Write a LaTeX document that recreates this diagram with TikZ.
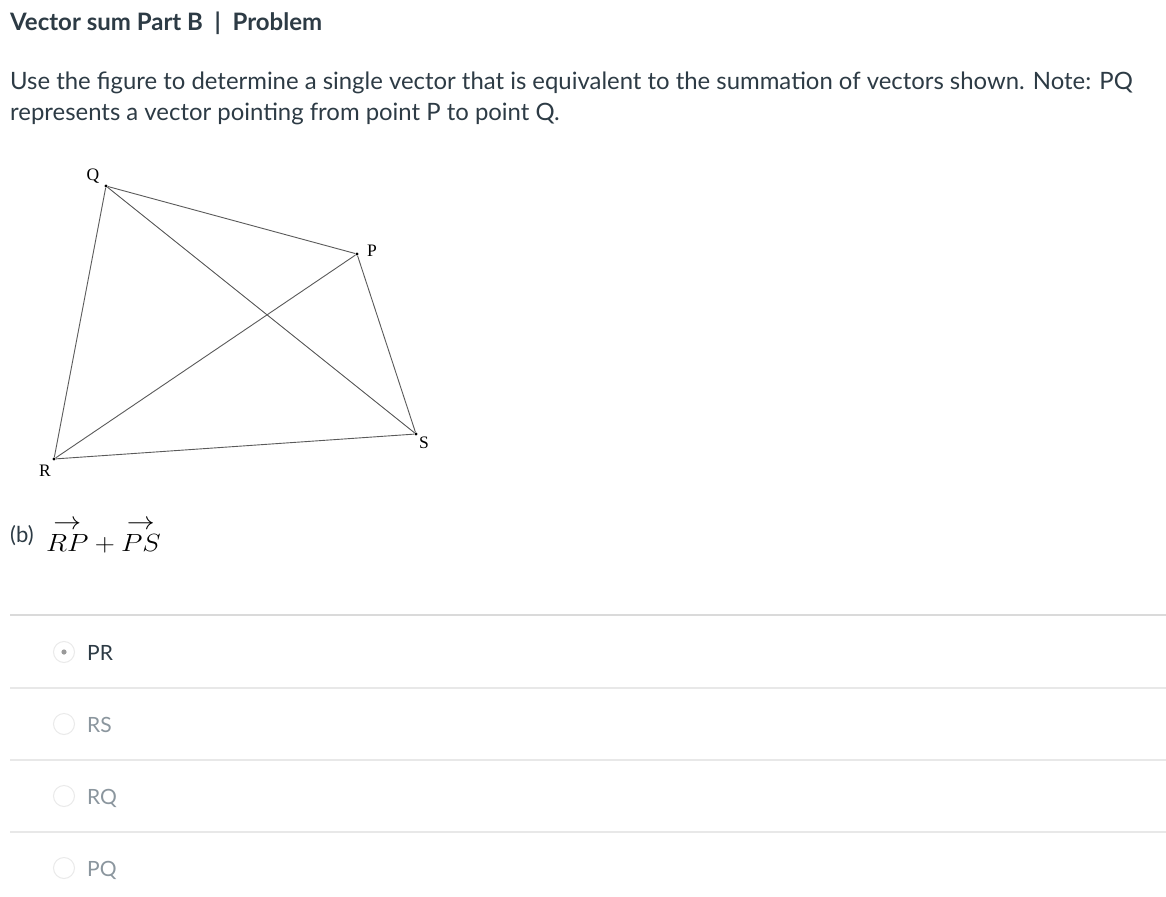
\documentclass[tikz,border=0pt]{standalone}
\usepackage{fontspec}
\setmainfont{Lato}
\newfontfamily\figfont{Liberation Serif}
\usepackage{amsmath}
\definecolor{ink}{HTML}{2D3B45}
\definecolor{mutedink}{HTML}{8B969E}
\definecolor{figline}{HTML}{5A5A5A}
\definecolor{sepline}{HTML}{DADADA}
\definecolor{sepline2}{HTML}{E8E8E8}
\definecolor{radioring}{HTML}{EAEAEA}
\definecolor{radiodot}{HTML}{9A9A9A}
\tikzset{
  titletext/.style={anchor=base west,inner sep=0pt,text=ink,font=\fontsize{24}{28}\selectfont\bfseries},
  bodytext/.style={anchor=base west,inner sep=0pt,text=ink,font=\fontsize{23.9}{28}\selectfont},
  ptdot/.style={circle,fill=black,inner sep=0pt,minimum size=3.4pt},
  ptlabel/.style={inner sep=0pt,font=\figfont\fontsize{17.5}{20}\selectfont},
  edge/.style={draw=figline,line width=0.9pt},
  sep/.style={draw=sepline2,line width=1.4pt},
  radio/.style={circle,draw=radioring,line width=1pt,inner sep=0pt,minimum size=21pt},
  opt/.style={anchor=base west,inner sep=0pt,text=mutedink,font=\fontsize{21}{25}\selectfont},
}
\newcommand{\arrowover}[1]{\overset{\displaystyle\rightarrow}{#1}}
\begin{document}
\begin{tikzpicture}[x=1pt,y=-1pt]
\useasboundingbox[fill=white] (0,0) rectangle (1166,896);
% header
\node[titletext] (title) at (10,31) {Vector sum Part B \ | \ Problem};
\node[bodytext] (l1) at (10,90) {Use the figure to determine a single vector that is equivalent to the summation of vectors shown. Note: PQ};
\node[bodytext] (l2) at (10,121) {represents a vector pointing from point P to point Q.};
% figure
\node[ptdot] (Q) at (106,186) {};
\node[ptdot] (P) at (357,254) {};
\node[ptdot] (S) at (416,434) {};
\node[ptdot] (R) at (54,459) {};
\draw[edge] (R) -- (Q) -- (P) -- (S) -- (R);
\draw[edge] (Q) -- (S);
\draw[edge] (R) -- (P);
\node[ptlabel] (lQ) at (93,176) {Q};
\node[ptlabel] (lP) at (372,251) {P};
\node[ptlabel] (lS) at (424,443) {S};
\node[ptlabel] (lR) at (45,471) {R};
% part b
\node[anchor=base west,inner sep=0pt,text=ink,font=\fontsize{22}{26}\selectfont] (b) at (10,542) {(b)};
\node[anchor=base west,inner sep=0pt] (expr) at (46,551.5) {\fontsize{23.4}{28}\selectfont\scalebox{1.12}[1]{$\arrowover{RP}+\arrowover{PS}$}};
% separators
\draw[draw=sepline,line width=1.4pt] (10,615) -- (1166,615);
\coordinate (s2a) at (10,688); \coordinate (s2b) at (1166,688);
\coordinate (s3a) at (10,760); \coordinate (s3b) at (1166,760);
\coordinate (s4a) at (10,832); \coordinate (s4b) at (1166,832);
\draw[sep] (s2a) -- (s2b);
\draw[sep] (s3a) -- (s3b);
\draw[sep] (s4a) -- (s4b);
% options
\node[radio] (r1) at (64,652) {};
\fill[radiodot] (r1.center) circle (2.6pt);
\node[opt,text=ink] (o1) at (87,660) {PR};
\node[radio] (r2) at (64,724) {};
\node[opt] (o2) at (87,732) {RS};
\node[radio] (r3) at (64,796) {};
\node[opt] (o3) at (87,804) {RQ};
\node[radio] (r4) at (64,868) {};
\node[opt] (o4) at (87,876) {PQ};
\end{tikzpicture}
\end{document}
